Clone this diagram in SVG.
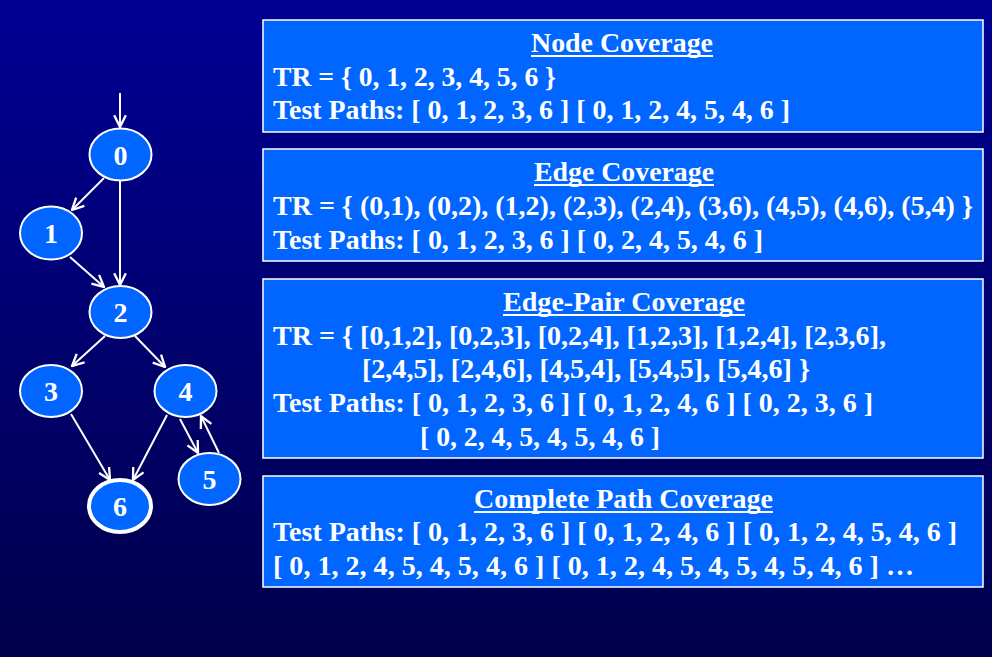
<svg xmlns="http://www.w3.org/2000/svg" width="992" height="657" viewBox="0 0 992 657">
<defs>
<linearGradient id="bg" x1="0" y1="0" x2="0" y2="1">
<stop offset="0" stop-color="#000094"/>
<stop offset="1" stop-color="#00004c"/>
</linearGradient>
<marker id="arr" markerUnits="userSpaceOnUse" markerWidth="14" markerHeight="14" viewBox="0 0 12 12" refX="11" refY="6" orient="auto">
<path d="M1,1 L11,6 L1,11" fill="none" stroke="#ffffff" stroke-width="2"/>
</marker>
<style>
.nd{fill:#0066ff;stroke:#ffffff;stroke-width:2}
.nd6{fill:#0066ff;stroke:#ffffff;stroke-width:4}
.nl{font-family:"Liberation Serif","Times New Roman",serif;font-weight:bold;font-size:28px;fill:#ffffff;text-anchor:middle}
.ed{stroke:#ffffff;stroke-width:2;fill:none;marker-end:url(#arr)}
.bx{fill:#0066ff;stroke:#ffffff;stroke-width:1.5}
.t{font-family:"Liberation Serif","Times New Roman",serif;font-weight:bold;font-size:28px;fill:#ffffff}
.ul{stroke:#ffffff;stroke-width:2}
</style>
</defs>
<rect x="0" y="0" width="992" height="657" fill="url(#bg)"/>

<g id="connectors">
<line class="ed" x1="120" y1="93" x2="120" y2="127"/>
<line class="ed" x1="104" y1="178" x2="72" y2="210"/>
<line class="ed" x1="120" y1="181" x2="120" y2="285"/>
<line class="ed" x1="70" y1="257" x2="104" y2="287"/>
<line class="ed" x1="105" y1="336" x2="72" y2="366"/>
<line class="ed" x1="135" y1="336" x2="165" y2="367"/>
<line class="ed" x1="71" y1="414" x2="110" y2="480"/>
<line class="ed" x1="167" y1="415" x2="133" y2="480"/>
<line class="ed" x1="180" y1="419" x2="198" y2="453"/>
<line class="ed" x1="219" y1="453" x2="201" y2="416"/>
</g>

<g id="n0"><ellipse class="nd" cx="120.5" cy="154.5" rx="31" ry="26"/><text class="nl" x="120.5" y="164.5">0</text></g>
<g id="n1"><ellipse class="nd" cx="51" cy="233" rx="31" ry="26.5"/><text class="nl" x="51" y="243">1</text></g>
<g id="n2"><ellipse class="nd" cx="120.5" cy="312" rx="31" ry="26"/><text class="nl" x="120.5" y="322">2</text></g>
<g id="n3"><ellipse class="nd" cx="51" cy="391" rx="31" ry="26"/><text class="nl" x="51" y="401">3</text></g>
<g id="n4"><ellipse class="nd" cx="185.5" cy="391" rx="31" ry="26"/><text class="nl" x="185.5" y="401">4</text></g>
<g id="n5"><ellipse class="nd" cx="209.5" cy="479" rx="31" ry="26"/><text class="nl" x="209.5" y="489">5</text></g>
<g id="n6"><ellipse class="nd6" cx="120" cy="506" rx="31" ry="26"/><text class="nl" x="120" y="516">6</text></g>

<g id="box-node">
<rect class="bx" x="263" y="20" width="720" height="112"/>
<text class="t" x="531" y="52" textLength="182" lengthAdjust="spacingAndGlyphs">Node Coverage</text>
<line class="ul" x1="531" y1="56" x2="713" y2="56"/>
<text class="t" x="273" y="86" textLength="283" lengthAdjust="spacingAndGlyphs">TR = { 0, 1, 2, 3, 4, 5, 6 }</text>
<text class="t" x="273" y="119" textLength="517" lengthAdjust="spacingAndGlyphs">Test Paths: [ 0, 1, 2, 3, 6 ] [ 0, 1, 2, 4, 5, 4, 6 ]</text>
</g>

<g id="box-edge">
<rect class="bx" x="263" y="149" width="720" height="112"/>
<text class="t" x="534" y="181" textLength="180" lengthAdjust="spacingAndGlyphs">Edge Coverage</text>
<line class="ul" x1="534" y1="185" x2="714" y2="185"/>
<text class="t" x="273" y="215" textLength="700" lengthAdjust="spacingAndGlyphs">TR = { (0,1), (0,2), (1,2), (2,3), (2,4), (3,6), (4,5), (4,6), (5,4) }</text>
<text class="t" x="273" y="249" textLength="490" lengthAdjust="spacingAndGlyphs">Test Paths: [ 0, 1, 2, 3, 6 ] [ 0, 2, 4, 5, 4, 6 ]</text>
</g>

<g id="box-edgepair">
<rect class="bx" x="263" y="279" width="720" height="179"/>
<text class="t" x="503" y="311" textLength="242" lengthAdjust="spacingAndGlyphs">Edge-Pair Coverage</text>
<line class="ul" x1="503" y1="315" x2="745" y2="315"/>
<text class="t" x="273" y="345" textLength="613" lengthAdjust="spacingAndGlyphs">TR = { [0,1,2], [0,2,3], [0,2,4], [1,2,3], [1,2,4], [2,3,6],</text>
<text class="t" x="362" y="378" textLength="448" lengthAdjust="spacingAndGlyphs">[2,4,5], [2,4,6], [4,5,4], [5,4,5], [5,4,6] }</text>
<text class="t" x="273" y="412" textLength="600" lengthAdjust="spacingAndGlyphs">Test Paths: [ 0, 1, 2, 3, 6 ] [ 0, 1, 2, 4, 6 ] [ 0, 2, 3, 6 ]</text>
<text class="t" x="420" y="446" textLength="240" lengthAdjust="spacingAndGlyphs">[ 0, 2, 4, 5, 4, 5, 4, 6 ]</text>
</g>

<g id="box-complete">
<rect class="bx" x="263" y="476" width="720" height="111"/>
<text class="t" x="474" y="508" textLength="299" lengthAdjust="spacingAndGlyphs">Complete Path Coverage</text>
<line class="ul" x1="474" y1="512" x2="773" y2="512"/>
<text class="t" x="273" y="541" textLength="684" lengthAdjust="spacingAndGlyphs">Test Paths: [ 0, 1, 2, 3, 6 ] [ 0, 1, 2, 4, 6 ] [ 0, 1, 2, 4, 5, 4, 6 ]</text>
<text class="t" x="273" y="575" textLength="641" lengthAdjust="spacingAndGlyphs">[ 0, 1, 2, 4, 5, 4, 5, 4, 6 ] [ 0, 1, 2, 4, 5, 4, 5, 4, 5, 4, 6 ] …</text>
</g>
</svg>
